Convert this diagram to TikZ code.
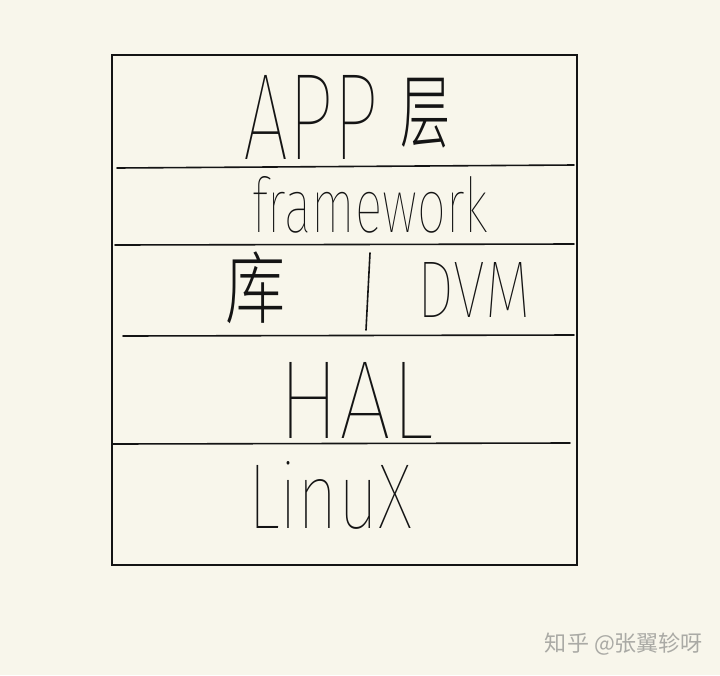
\documentclass[tikz,border=0pt]{standalone}
\usepackage{fontspec}
\usepackage{graphicx}
\newfontfamily\hand{Fira Sans Thin}
\newfontfamily\cjkthin{Noto Sans CJK SC Light}
\newfontfamily\cjk{Noto Sans CJK SC}
\definecolor{bgc}{RGB}{248,246,235}
\definecolor{ink}{RGB}{20,20,20}
\definecolor{wm}{RGB}{170,170,165}
\tikzset{
  ln/.style={draw=ink, line width=1.6pt, line cap=round},
  txt/.style={inner sep=0pt, text=ink, anchor=south west},
}
\begin{document}
\begin{tikzpicture}[x=1pt,y=-1pt]
\fill[bgc] (0,0) rectangle (720,675);
\useasboundingbox (0,0) rectangle (720,675);
% outer box and layer lines
\draw[ln] (112,55) rectangle (577,565);
\coordinate (l1a) at (117,168); \coordinate (l1b) at (574,165);
\coordinate (l2a) at (115,245); \coordinate (l2b) at (574,244);
\coordinate (l3a) at (123,336); \coordinate (l3b) at (574,335);
\coordinate (l4a) at (112,444); \coordinate (l4b) at (570,443);
\coordinate (dva) at (370,253); \coordinate (dvb) at (366,330);
\draw[ln] (l1a) -- (l1b);
\draw[ln] (l2a) -- (l2b);
\draw[ln] (l3a) -- (l3b);
\draw[ln] (l4a) -- (l4b);
\draw[ln] (dva) -- (dvb);
% texts
\node[txt] (app) at (243,160) {\resizebox{135pt}{84pt}{\hand APP}};
\node[inner sep=0pt, text=ink] (ceng) at (425,113) {\resizebox*{50pt}{70pt}{\cjkthin 层}};
\node[txt] (fw) at (252,233) {\resizebox{236pt}{56pt}{\hand framework}};
\node[inner sep=0pt, text=ink] (ku) at (255,288) {\resizebox*{60pt}{72pt}{\cjkthin 库}};
\node[txt] (dvm) at (417,318) {\resizebox{113pt}{55pt}{\hand DVM}};
\node[txt] (hal) at (278,439) {\resizebox{155pt}{76pt}{\hand HAL}};
\node[txt] (linux) at (248,530) {\resizebox{164pt}{67pt}{\hand LinuX}};
% watermark
\node[inner sep=0pt, text=wm] (wmk) at (624,644) {\resizebox{158pt}{!}{\cjk 知乎 @张翼轸呀}};
\end{tikzpicture}
\end{document}
